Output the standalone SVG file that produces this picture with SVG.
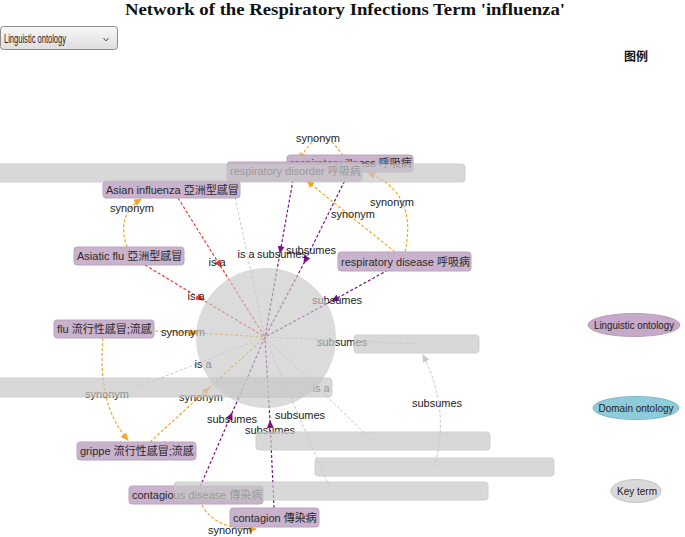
<svg xmlns="http://www.w3.org/2000/svg" width="685" height="537" viewBox="0 0 685 537">
<style>
.t{font-family:"Liberation Sans",Arial,"Noto Sans CJK TC",sans-serif;font-size:11px;fill:#2a2a2a}
.el{font-family:"Liberation Sans",Arial,sans-serif;font-size:11px;fill:#222;text-anchor:middle}
.node{fill:#c9b2cc;stroke:#bda4c0;stroke-width:1}
.bar{fill:#c8c8c8;opacity:0.7;stroke:#bdbdbd;stroke-width:1}
.e{fill:none;stroke-width:1.2;stroke-dasharray:3,2}
.red{stroke:#ee3a30}
.org{stroke:#f5a526}
.pur{stroke:#7d1480}
.gry{stroke:#c9c9c9;stroke-width:1}
</style>
<defs>
<linearGradient id="sel" x1="0" y1="0" x2="0" y2="1"><stop offset="0" stop-color="#f7f7f7"/><stop offset="1" stop-color="#dedede"/></linearGradient>
<marker id="mr" viewBox="0 -4 8 8" refX="7" refY="0" markerWidth="8" markerHeight="8" markerUnits="userSpaceOnUse" orient="auto"><path d="M0,-3.5L8,0L0,3.5Z" fill="#ee3a30"/></marker>
<marker id="mo" viewBox="0 -4 8 8" refX="7" refY="0" markerWidth="8" markerHeight="8" markerUnits="userSpaceOnUse" orient="auto"><path d="M0,-3.5L8,0L0,3.5Z" fill="#f5a526"/></marker>
<marker id="mp" viewBox="0 -4 8 8" refX="7" refY="0" markerWidth="8" markerHeight="8" markerUnits="userSpaceOnUse" orient="auto"><path d="M0,-3.5L8,0L0,3.5Z" fill="#7d1480"/></marker>
<marker id="mg" viewBox="0 -4 8 8" refX="7" refY="0" markerWidth="8" markerHeight="8" markerUnits="userSpaceOnUse" orient="auto"><path d="M0,-3.5L8,0L0,3.5Z" fill="#c9c9c9"/></marker>
</defs>
<rect width="685" height="537" fill="#fff"/>
<text x="345" y="15" text-anchor="middle" font-family="'Liberation Serif','Times New Roman',serif" font-weight="bold" font-size="17.5" fill="#111" textLength="440" lengthAdjust="spacingAndGlyphs">Network of the Respiratory Infections Term 'influenza'</text>
<g id="selector">
<rect x="0.5" y="26.5" width="117" height="23" rx="3" fill="url(#sel)" stroke="#8c8c8c"/>
<text x="4" y="42.5" font-family="'Liberation Sans',Arial,sans-serif" font-size="12.5" fill="#222" textLength="62" lengthAdjust="spacingAndGlyphs">Linguistic ontology</text>
<path d="M103.5,38 L106,41 L108.5,38" fill="none" stroke="#555" stroke-width="1"/>
</g>
<text x="636" y="61" text-anchor="middle" font-family="'Noto Sans CJK SC',sans-serif" font-weight="bold" font-size="12" fill="#111">图例</text>

<g id="connectors">
<path class="e gry" d="M232,183 L265,337"/>
<path class="e gry" d="M138,387 L265,337"/>
<path class="e gry" d="M265,337 L417,344"/>
<path class="e gry" d="M265,337 L373,441"/>
<path class="e gry" d="M265,337 L331,491"/>
<path class="e gry" d="M434,467 Q451,411 423,355" marker-end="url(#mg)"/>
<path class="e red" d="M178,198 L221,267 L265,337" marker-mid="url(#mr)"/>
<path class="e red" d="M145,265 L203,300 L265,337" marker-mid="url(#mr)"/>
<path class="e org" d="M155,331 L197,333 L265,337" marker-mid="url(#mo)"/>
<path class="e org" d="M150,442 L209,388 L265,337" marker-mid="url(#mo)"/>
<path class="e org" d="M127,247 Q116,215 141,199" marker-end="url(#mo)"/>
<path class="e org" d="M103,338 Q97,405 128,440" marker-end="url(#mo)"/>
<path class="e org" d="M405,252 Q418,192 368,173" marker-end="url(#mo)"/>
<path class="e org" d="M395,252 L307,181" marker-end="url(#mo)"/>
<path class="e org" d="M343,156 Q320,118 300,160" marker-end="url(#mo)"/>
<path class="e org" d="M202,505 Q215,530 256,529" marker-end="url(#mo)"/>
<path class="e pur" d="M200,487 L232,413 L265,337" marker-mid="url(#mp)"/>
<path class="e pur" d="M274,508 L270,421 L265,337" marker-mid="url(#mp)"/>
<path class="e pur" d="M388,270 L332,301 L265,337" marker-mid="url(#mp)"/>
<path class="e pur" d="M293,180 L280,253 L265,337" marker-mid="url(#mp)"/>
<path class="e pur" d="M349,172 L304,263 L265,337" marker-mid="url(#mp)"/>
</g>

<g id="edge-labels">
<text class="el" x="318" y="142">synonym</text>
<text class="el" x="392" y="206">synonym</text>
<text class="el" x="353" y="218">synonym</text>
<text class="el" x="132" y="212">synonym</text>
<text class="el" x="217" y="266">is a</text>
<text class="el" x="246" y="258">is a</text>
<text class="el" x="282" y="258">subsumes</text>
<text class="el" x="311" y="254">subsumes</text>
<text class="el" x="196" y="300">is a</text>
<text class="el" x="337" y="304">subsumes</text>
<text class="el" x="183" y="336">synonym</text>
<text class="el" x="342" y="346">subsumes</text>
<text class="el" x="203" y="368">is a</text>
<text class="el" x="321" y="392">is a</text>
<text class="el" x="107" y="398">synonym</text>
<text class="el" x="201" y="401">synonym</text>
<text class="el" x="437" y="407">subsumes</text>
<text class="el" x="232" y="423">subsumes</text>
<text class="el" x="300" y="419">subsumes</text>
<text class="el" x="270" y="434">subsumes</text>
<text class="el" x="230" y="534">synonym</text>
</g>

<g id="n-asian-influenza"><rect class="node" x="103" y="181" width="137" height="17" rx="3"/><text class="t" x="106" y="194">Asian influenza 亞洲型感冒</text></g>
<g id="n-asiatic-flu"><rect class="node" x="74" y="247" width="110" height="18" rx="3"/><text class="t" x="77" y="260">Asiatic flu 亞洲型感冒</text></g>
<g id="n-flu"><rect class="node" x="54" y="320" width="100" height="18" rx="3"/><text class="t" x="57" y="333">flu 流行性感冒;流感</text></g>
<g id="n-grippe"><rect class="node" x="77" y="442" width="119" height="18" rx="3"/><text class="t" x="80" y="455">grippe 流行性感冒;流感</text></g>
<g id="n-contagious-disease"><rect class="node" x="129" y="486" width="134" height="18" rx="3"/><text class="t" x="132" y="499">contagious disease 傳染病</text></g>
<g id="n-contagion"><rect class="node" x="230" y="508" width="89" height="19" rx="3"/><text class="t" x="233" y="522">contagion 傳染病</text></g>
<g id="n-respiratory-disease"><rect class="node" x="338" y="252" width="133" height="19" rx="3"/><text class="t" x="341" y="266">respiratory disease 呼吸病</text></g>
<g id="n-respiratory-illness"><rect class="node" x="287" y="155" width="126" height="17" rx="3"/><text class="t" x="290" y="167">respiratory illness 呼吸病</text></g>
<g id="n-respiratory-disorder"><rect class="node" x="227" y="162" width="135" height="19" rx="3"/><text class="t" x="230" y="175">respiratory disorder 呼吸病</text></g>

<g id="n-influenza"><circle cx="266" cy="338" r="70" fill="#c8c8c8" opacity="0.65"/></g>

<g id="key-terms">
<rect id="k1" class="bar" x="-3" y="164" width="468" height="18" rx="3"/>
<rect id="k2" class="bar" x="354" y="335" width="125" height="18" rx="3"/>
<rect id="k3" class="bar" x="-60" y="378" width="392" height="19" rx="3"/>
<rect id="k4" class="bar" x="256" y="432" width="234" height="18" rx="3"/>
<rect id="k5" class="bar" x="315" y="458" width="239" height="18" rx="3"/>
<rect id="k6" class="bar" x="174" y="482" width="314" height="18" rx="3"/>
</g>

<g id="legend">
<g id="lg-linguistic"><ellipse cx="634" cy="325" rx="46" ry="11.5" fill="#c6a8c9" stroke="#b79bbb"/><text x="634" y="329" text-anchor="middle" font-family="'Liberation Sans',Arial,sans-serif" font-size="11" fill="#222" textLength="80" lengthAdjust="spacingAndGlyphs">Linguistic ontology</text></g>
<g id="lg-domain"><ellipse cx="636" cy="408" rx="43" ry="11.5" fill="#8ecbdb" stroke="#7ab8c9"/><text x="636" y="412" text-anchor="middle" font-family="'Liberation Sans',Arial,sans-serif" font-size="11.5" fill="#222" textLength="75" lengthAdjust="spacingAndGlyphs">Domain ontology</text></g>
<g id="lg-key"><ellipse cx="636" cy="491" rx="25" ry="11.5" fill="#d9d9d9" stroke="#c2c2c2"/><text x="637" y="495" text-anchor="middle" font-family="'Liberation Sans',Arial,sans-serif" font-size="11.5" fill="#222" textLength="40" lengthAdjust="spacingAndGlyphs">Key term</text></g>
</g>
</svg>
